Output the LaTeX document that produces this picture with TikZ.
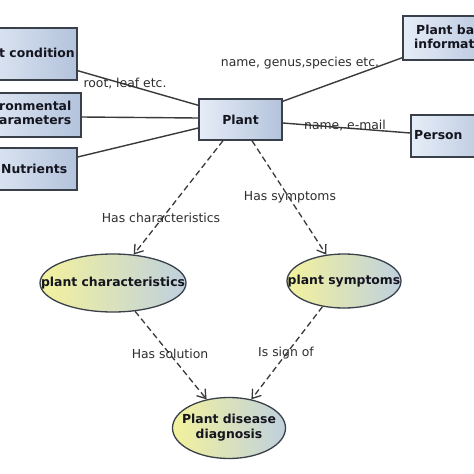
\documentclass[tikz,border=0pt]{standalone}
\usepackage{fontspec}
\setmainfont{DejaVu Sans}
\usetikzlibrary{arrows.meta,shapes.geometric,calc}
\newcommand{\dgfont}{\fontsize{12.4}{14.5}\selectfont}
\definecolor{boxL}{HTML}{E6EDF7}
\definecolor{boxR}{HTML}{B3C3DC}
\definecolor{boxline}{HTML}{3A404A}
\definecolor{ellL}{HTML}{F3F29C}
\definecolor{ellR}{HTML}{BFD0DE}
\definecolor{linec}{HTML}{3A3A3A}
\definecolor{lblc}{HTML}{2E2E2E}
\definecolor{txtc}{HTML}{151520}
\begin{document}
\begin{tikzpicture}[x=1pt,y=-1pt,
  box/.style={draw=boxline, line width=1.4pt, left color=boxL, right color=boxR, rectangle, inner sep=0pt},
  ell/.style={draw=boxline, line width=1.3pt, ellipse, left color=ellL, right color=ellR, inner sep=0pt, font=\bfseries\dgfont, text=txtc},
  boxtext/.style={font=\bfseries\dgfont, align=left, inner sep=0pt, text=txtc},
  lbl/.style={font=\dgfont, text=lblc, inner sep=0pt},
  link/.style={draw=linec, line width=1.4pt},
  dep/.style={draw=linec, line width=1.3pt, dash pattern=on 6pt off 3.5pt, -{Straight Barb[length=8pt,width=11pt]}}
]
\useasboundingbox[fill=white] (0,0) rectangle (474,474);
\clip (0,0) rectangle (474,474);
% boxes
\node[box, minimum width=107pt, minimum height=52pt] (bc) at (23.5,54) {};
\node[box, minimum width=111pt, minimum height=44pt] (be) at (25.5,115) {};
\node[box, minimum width=107pt, minimum height=42pt] (bn) at (23.5,169) {};
\node[box, minimum width=83pt, minimum height=41pt, font=\bfseries\dgfont, text=txtc] (plant) at (240.5,119.5) {Plant};
\node[box, minimum width=97pt, minimum height=44pt] (bi) at (451.5,38) {};
\node[box, minimum width=89pt, minimum height=42pt] (person) at (455.5,136) {};
% box texts
\node[boxtext, anchor=west] (tc) at (-1,53) {t condition};
\node[boxtext, anchor=west] (te) at (-1,113) {ronmental\\arameters};
\node[boxtext, anchor=west] (tn) at (1,169) {Nutrients};
\node[boxtext, anchor=west] (ti) at (414,37) {\hspace{2pt}Plant ba\\informat};
\node[boxtext, anchor=west] (tp) at (414,135) {Person};
% ellipses
\node[ell, minimum width=146pt, minimum height=58pt] (pc) at (113,283) {\makebox[0pt]{plant characteristics}};
\node[ell, minimum width=114pt, minimum height=54pt] (ps) at (344,281) {\makebox[0pt]{plant symptoms}};
\node[ell, minimum width=113pt, minimum height=61pt] (pd) at (229,428) {\makebox[0pt]{\begin{tabular}{@{}c@{}}Plant disease\\diagnosis\end{tabular}}};
% links
\draw[link] ([yshift=10pt]bc.south east) -- ([yshift=-7pt]plant.north west);
\draw[link] ([yshift=-2pt]be.east) -- ([yshift=1.5pt]plant.west);
\draw[link] ([yshift=12pt]bn.east) -- ([yshift=-8.5pt]plant.west);
\draw[link] ([yshift=-3pt]plant.north east) -- ([yshift=3pt]bi.south west);
\draw[link] ([yshift=-3.5pt]plant.east) -- ([yshift=3pt]person.west);
\draw[dep] ([xshift=-17.5pt]plant.south) -- (pc.54);
\draw[dep] ([xshift=11.5pt]plant.south) -- (ps.124);
\draw[dep] (pc.-52) -- (pd.128);
\draw[dep] (ps.230) -- (pd.52);
% labels
\node[lbl] (l1) at (125,84) {root, leaf etc.};
\node[lbl] (l2) at (300,63) {name, genus,species etc.};
\node[lbl] (l3) at (345,126) {name, e-mail};
\node[lbl] (l4) at (290,197) {Has symptoms};
\node[lbl] (l5) at (161,218) {Has characteristics};
\node[lbl] (l6) at (170,354) {Has solution};
\node[lbl] (l7) at (286,353) {Is sign of};
\end{tikzpicture}
\end{document}
